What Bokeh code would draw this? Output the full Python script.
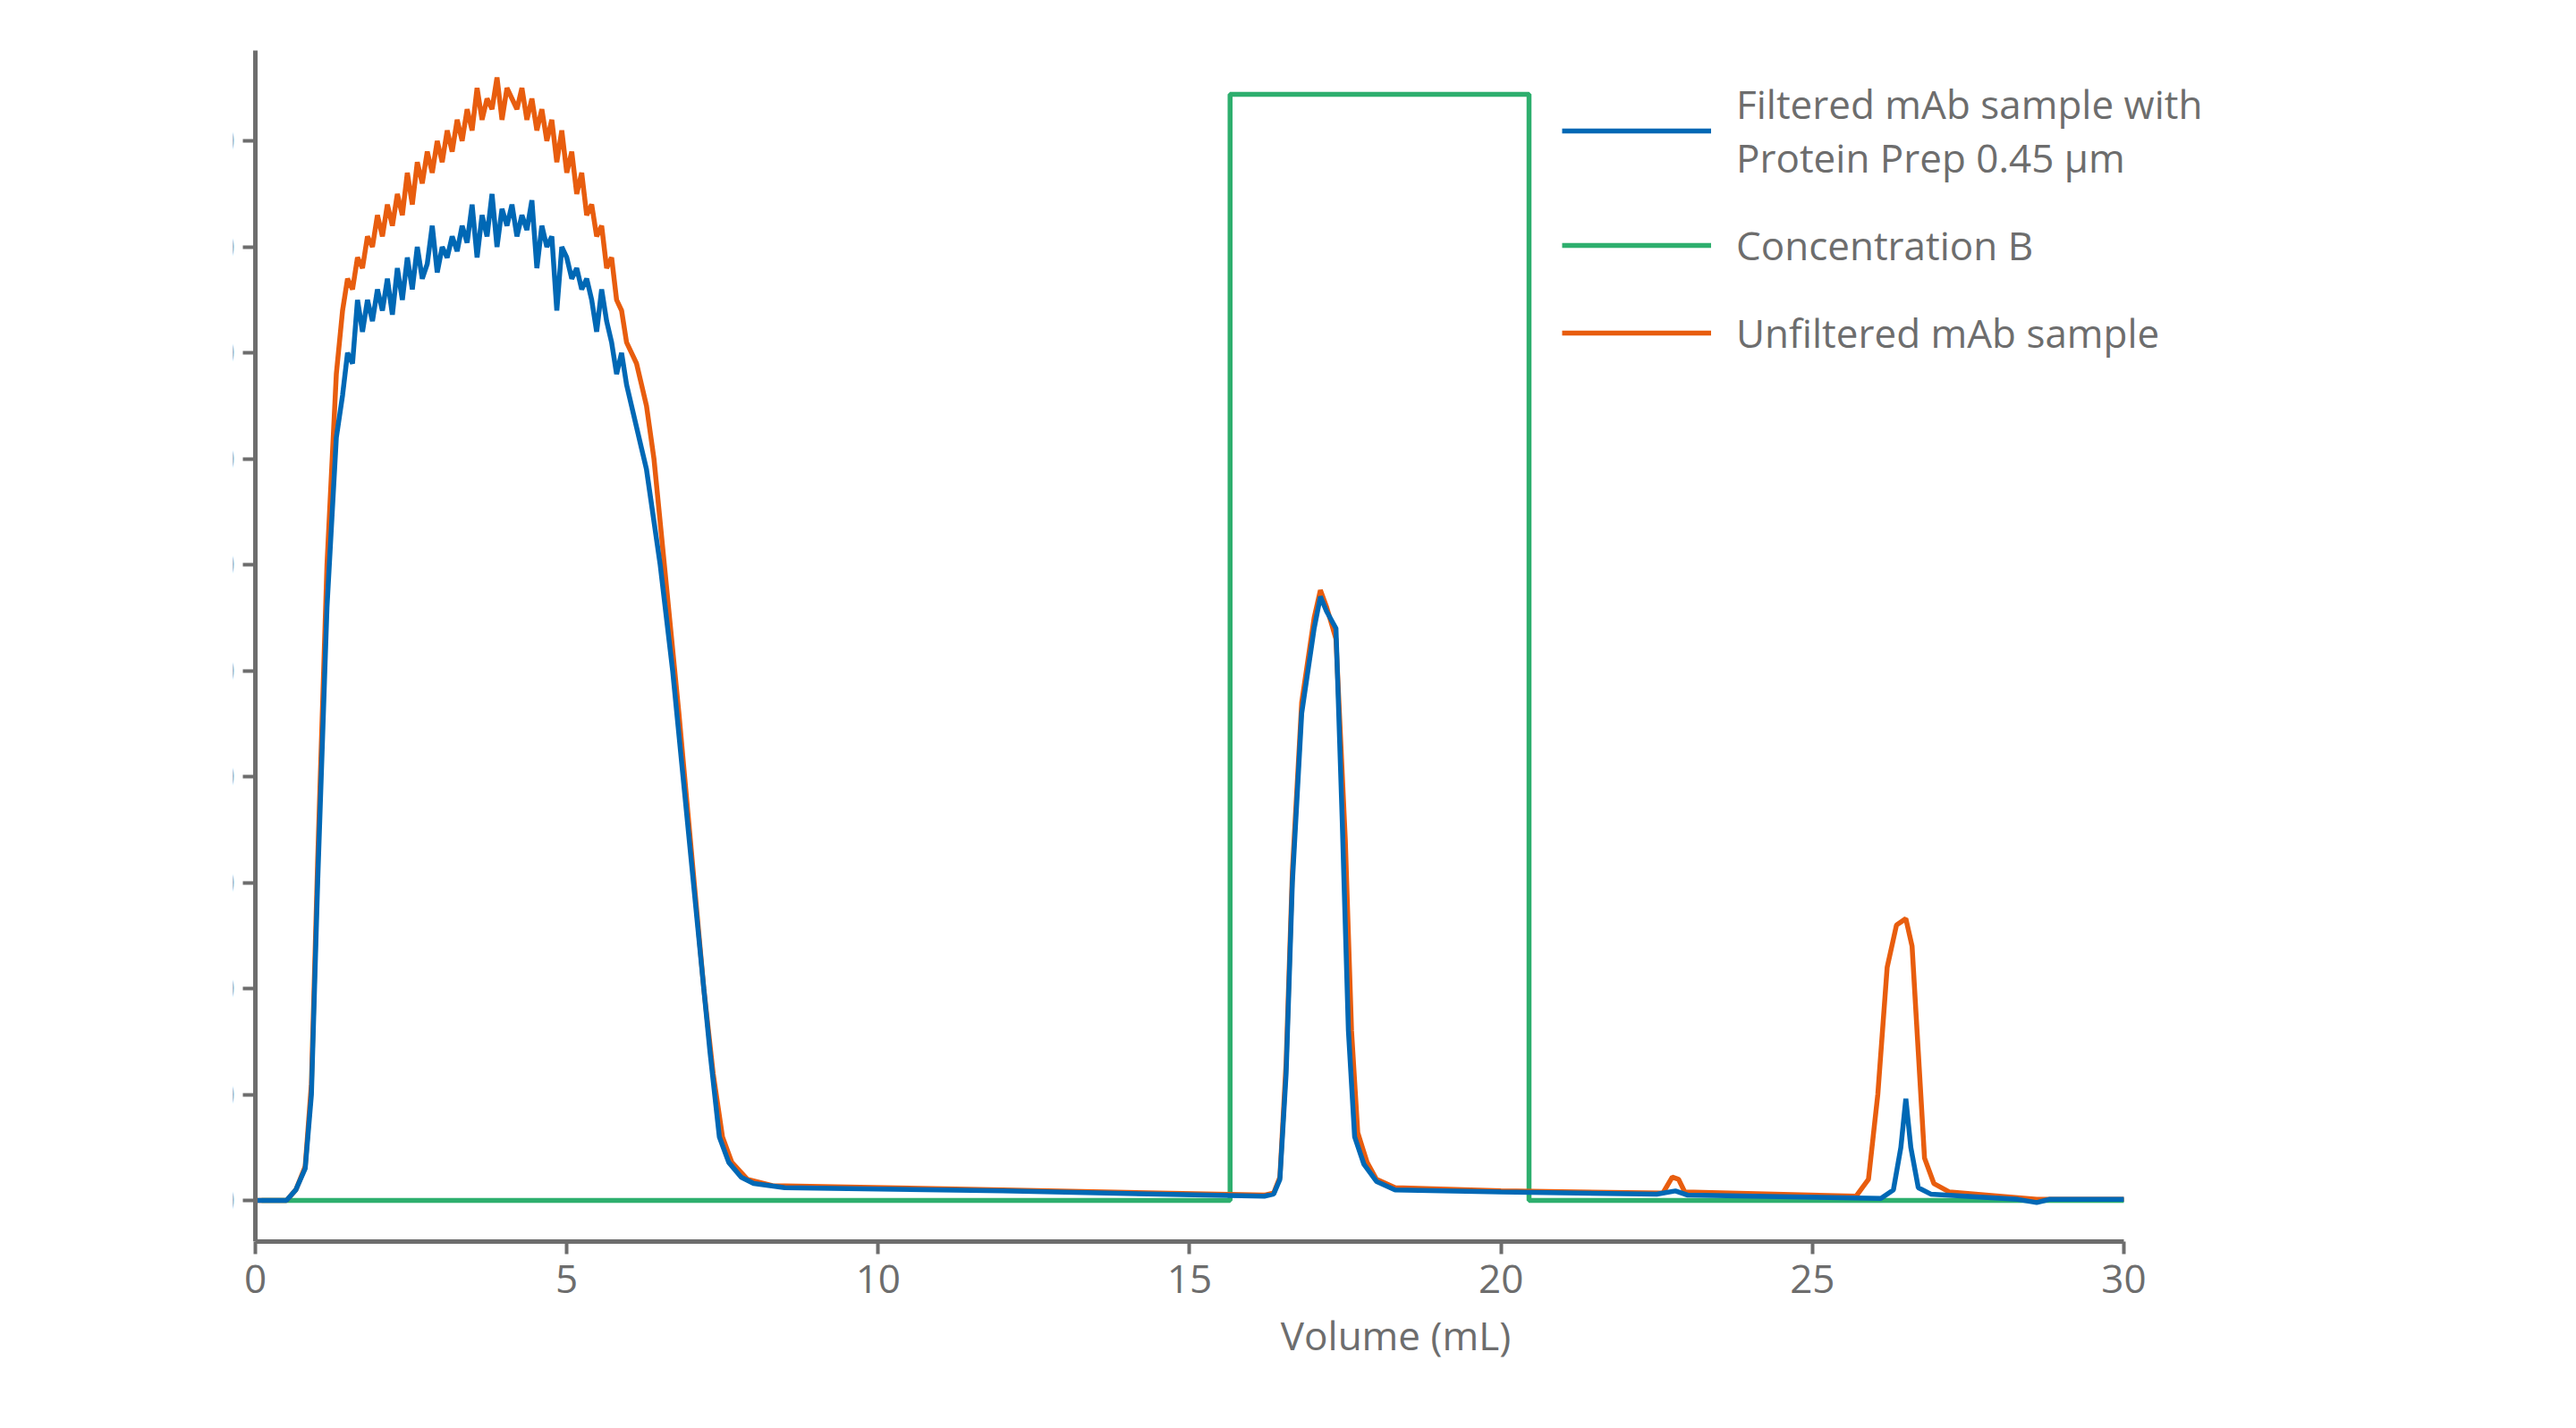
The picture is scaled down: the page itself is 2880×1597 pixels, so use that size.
from bokeh.plotting import figure
from bokeh.models import Range1d, FixedTicker, Legend, LegendItem, LinearAxis
from bokeh.embed import file_html
from bokeh.resources import INLINE

plateau_x = [1.40,1.48,1.56,1.64,1.72,1.80,1.88,1.96,2.04,2.12,2.20,2.28,2.36,2.44,2.52,2.60,2.68,2.76,2.84,2.92,
             3.00,3.08,3.16,3.24,3.32,3.40,3.48,3.56,3.64,3.72,3.80,3.88,3.96,4.04,4.12,4.20,4.28,4.36,4.44,4.52,
             4.60,4.68,4.76,4.84,4.92,5.00,5.08,5.16,5.24,5.32,5.40,5.48,5.56,5.64,5.72,5.80,5.88,5.96,6.04,6.12,6.20,6.28]
blue_plateau = [3800,4000,3950,4250,4100,4250,4150,4300,4200,4350,4180,4400,4250,4450,4300,4500,4350,4420,4600,4380,
                4500,4450,4550,4480,4600,4520,4700,4450,4650,4550,4750,4500,4680,4600,4700,4550,4650,4580,4720,4400,
                4600,4500,4550,4200,4500,4450,4350,4400,4300,4350,4250,4100,4300,4150,4050,3900,4000,3850,3750,3650,3550,3450]
orange_plateau = [4200,4350,4300,4450,4400,4550,4500,4650,4550,4700,4600,4750,4650,4850,4700,4900,4800,4950,4850,5000,
                  4900,5050,4950,5100,5000,5150,5050,5250,5100,5200,5150,5300,5100,5250,5200,5150,5250,5100,5200,5050,
                  5150,5000,5100,4900,5050,4850,4950,4750,4850,4650,4700,4550,4600,4400,4450,4250,4200,4050,4000,3950,3850,3750]

blue_pre_x = [0.0, 0.5, 0.65, 0.8, 0.9, 1.0, 1.15, 1.3]
blue_pre_y = [0, 0, 50, 150, 500, 1500, 2800, 3600]
blue_post_x = [6.5, 6.7, 6.9, 7.1, 7.3, 7.45, 7.6, 7.8, 8.0, 8.5, 12.0, 16.2, 16.35, 16.45, 16.55, 16.65, 16.8, 17.0, 17.1,
               17.2, 17.35, 17.45, 17.55, 17.65, 17.8, 18.0, 18.3, 20.0, 22.5, 22.8, 23.0, 26.1, 26.3, 26.42, 26.5,
               26.58, 26.7, 26.9, 28.3, 28.6, 28.8, 30.0]
blue_post_y = [3000, 2500, 1900, 1300, 700, 300, 180, 110, 80, 60, 45, 20, 30, 100, 600, 1500, 2300, 2700, 2850,
               2780, 2700, 1800, 800, 300, 170, 90, 50, 40, 30, 45, 25, 10, 50, 250, 480, 250, 60, 30, 5, -10, 5, 5]
orange_pre_x = [0.0, 0.5, 0.65, 0.8, 0.9, 1.0, 1.15, 1.3]
orange_pre_y = [0, 0, 50, 160, 550, 1600, 3000, 3900]
orange_post_x = [6.4, 6.6, 6.8, 7.0, 7.2, 7.35, 7.5, 7.65, 7.9, 8.3, 12.0, 16.2, 16.35, 16.45, 16.55, 16.65, 16.8, 17.0,
                 17.1, 17.2, 17.35, 17.5, 17.6, 17.7, 17.85, 18.0, 18.3, 20.0, 22.6, 22.75, 22.85, 22.95, 25.7, 25.9,
                 26.05, 26.2, 26.35, 26.5, 26.6, 26.7, 26.8, 26.95, 27.2, 28.0, 28.6, 30.0]
orange_post_y = [3500, 2900, 2300, 1650, 1000, 600, 300, 180, 100, 70, 50, 25, 35, 110, 650, 1550, 2350, 2750, 2880,
                 2800, 2650, 1700, 800, 320, 180, 100, 60, 45, 35, 110, 100, 40, 20, 100, 500, 1100, 1300, 1330, 1200,
                 700, 200, 80, 40, 20, 5, 5]

green_x = [0.1, 15.65, 15.65, 20.45, 20.45, 30.0]
green_y = [0, 0, 5220, 5220, 0, 0]

y_ticks = [0, 500, 1000, 1500, 2000, 2500, 3000, 3500, 4000, 4500, 5000]
x_ticks = [0, 5, 10, 15, 20, 25, 30]
unit_label = "mAU"
unit_label_y = 5349
legend_labels = ["Filtered mAb sample with\nProtein Prep 0.45 µm", "Concentration B", "Unfiltered mAb sample"]

blue_x = blue_pre_x + plateau_x + blue_post_x
blue_y = blue_pre_y + blue_plateau + blue_post_y
orange_x = orange_pre_x + plateau_x + orange_post_x
orange_y = orange_pre_y + orange_plateau + orange_post_y

GRAY = "#6d6d6d"
FONT = "Open Sans"
p = figure(width=2860, height=1580, output_backend="svg", toolbar_location=None,
           x_range=Range1d(-0.359, 36.98), y_range=Range1d(-194, 5600),
           min_border_left=260, min_border_right=0, min_border_top=15, min_border_bottom=192)
p.outline_line_color = None
p.grid.visible = False

g = p.line(green_x, green_y, color="#2eaf6e", line_width=5.5)
o = p.line(orange_x, orange_y, color="#e85d0e", line_width=5.5)
b = p.line(blue_x, blue_y, color="#0068b5", line_width=5.5)

unit_axis = LinearAxis(ticker=FixedTicker(ticks=[unit_label_y]),
                       major_label_overrides={unit_label_y: unit_label})
p.add_layout(unit_axis, "left")

def style(ax):
    ax.axis_line_color = GRAY
    ax.axis_line_width = 5
    ax.major_tick_line_color = GRAY
    ax.major_tick_line_width = 4
    ax.major_tick_out = 14
    ax.major_tick_in = 0
    ax.minor_tick_line_color = None
    ax.major_label_text_font = FONT
    ax.major_label_text_font_size = "44px"
    ax.major_label_text_color = GRAY
    ax.axis_label_text_font = FONT
    ax.axis_label_text_font_size = "44px"
    ax.axis_label_text_color = GRAY
    ax.axis_label_text_font_style = "normal"

for ax in (p.xaxis[0], p.yaxis[0], unit_axis):
    style(ax)

unit_axis.axis_line_color = None
unit_axis.major_tick_line_color = None
unit_axis.major_tick_out = 0
unit_axis.major_label_standoff = 30
unit_axis.fixed_location = 0

ya = p.yaxis[0]
ya.ticker = FixedTicker(ticks=y_ticks)
ya.bounds = (-194, 5426)
ya.fixed_location = 0
ya.major_label_standoff = 8

p.xaxis.ticker = FixedTicker(ticks=x_ticks)
p.xaxis.bounds = (0, 30)
p.xaxis.major_label_standoff = 12
p.xaxis.axis_label = "Volume (mL)"
p.xaxis.axis_label_standoff = 14

legend = Legend(items=[LegendItem(label=legend_labels[0], renderers=[b]),
                       LegendItem(label=legend_labels[1], renderers=[g]),
                       LegendItem(label=legend_labels[2], renderers=[o])],
                location=(1486, 986), orientation="vertical",
                padding=0, margin=0, spacing=38, border_line_color=None, background_fill_alpha=0,
                glyph_width=167, glyph_height=44, label_standoff=28,
                label_text_font=FONT, label_text_font_size="44px", label_text_color=GRAY)
p.add_layout(legend)

open("out.html", "w").write(file_html(p, INLINE))
